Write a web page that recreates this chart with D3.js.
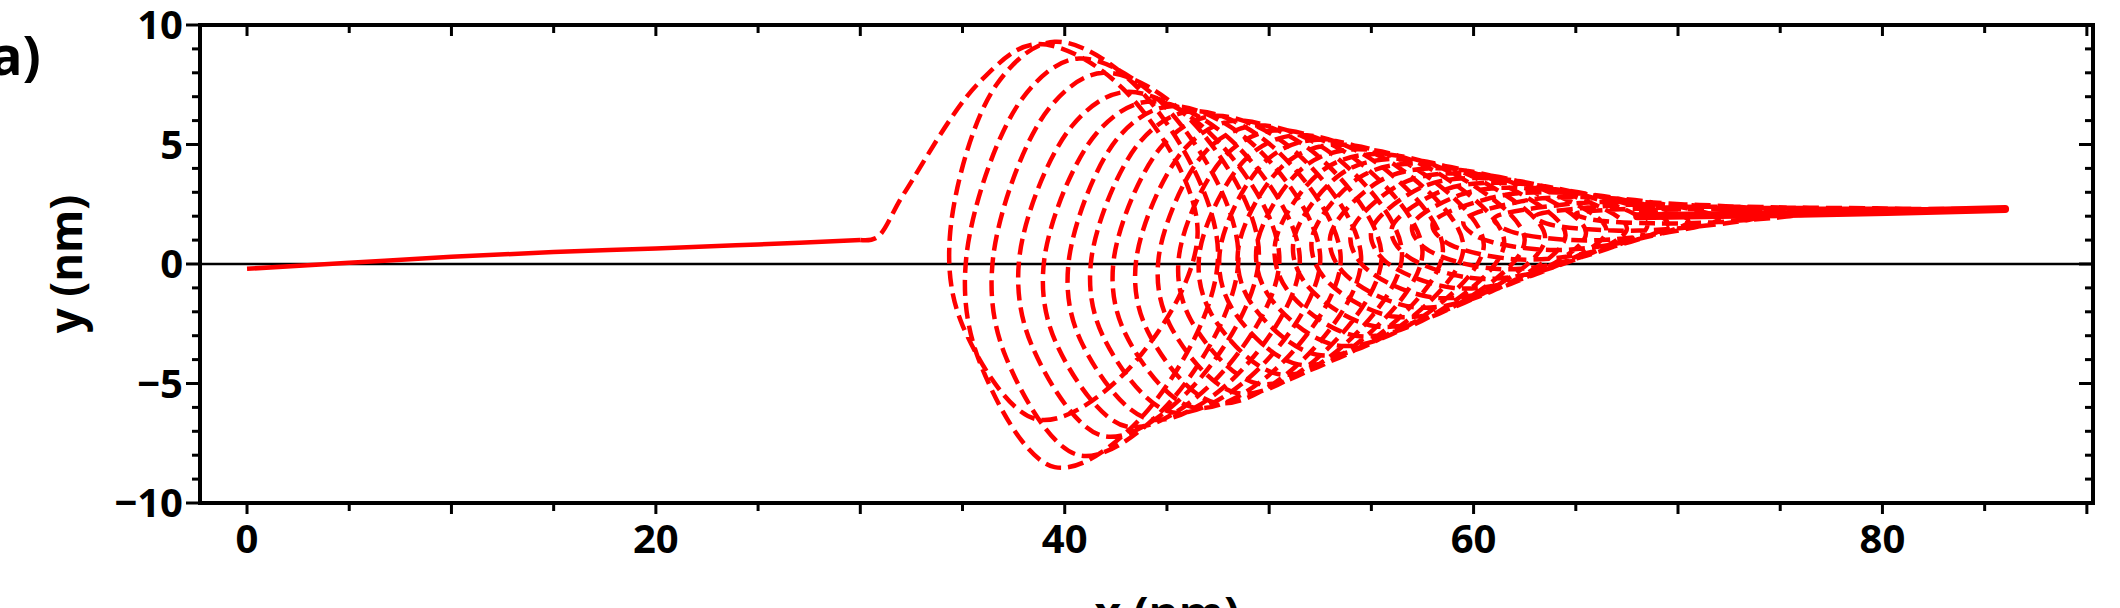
<!DOCTYPE html>
<html><head><meta charset="utf-8">
<script src="https://cdn.jsdelivr.net/npm/d3@7"></script>
<style>body{margin:0;background:#fff}svg{display:block}text{font-family:"Open Sans","DejaVu Sans",sans-serif;font-weight:700}</style>
</head><body>
<svg id="c" width="2120" height="608"></svg>
<script>
// approach line points (x, y in nm)
const leadX = [0, 5, 10, 15, 20, 25, 30, 30.8, 32.1];
const leadY = [-0.2, 0.05, 0.3, 0.5, 0.65, 0.82, 1.0, 1.1, 2.9];
// per-loop extents
const loopLeft   = [34.4,35.2,36.5,37.8,39.0,40.2,41.3,42.4,43.5,44.6,45.6,46.6,47.6,48.5,49.4,50.3,51.2,52.1,53,54,55,56,57,58,59.5,61,63,65,68,72];
const loopRight  = [46.5,47.5,48.5,49.5,50.5,51.5,52.5,53.5,54.5,55.5,56.5,57.5,58.5,59.5,60.5,61.5,62.5,63.5,64.5,65.5,66.5,67.5,68.5,69.5,70.5,72,74,76,79,83];
const loopTop    = [9.2,9.3,8.6,8.0,7.2,6.8,6.6,6.4,6.2,6.0,5.8,5.6,5.4,5.2,5.0,4.8,4.6,4.4,4.2,4.0,3.8,3.6,3.4,3.2,3.0,2.8,2.6,2.5,2.4,2.35];
const loopBottom = [-6.5,-8.5,-8.0,-7.2,-6.8,-6.5,-6.2,-6.0,-5.8,-5.4,-5.0,-4.6,-4.2,-3.8,-3.4,-3.0,-2.6,-2.2,-1.8,-1.4,-1.0,-0.6,-0.2,0.2,0.6,1.0,1.4,1.7,2.0,2.2];
const endPoint = [86, 2.3];
const xTickLabels = [0, 20, 40, 60, 80];
const yTickLabels = [-10, -5, 0, 5, 10];

const svg = d3.select("#c");
const L = 200, R = 2093, T = 25, B = 503;
const x = d3.scaleLinear().domain([-2.3, 90.3]).range([L, R]);
const y = d3.scaleLinear().domain([-10, 10]).range([B, T]);

const pts = leadX.map((v, i) => [v, leadY[i]]);
loopLeft.forEach((l, i) => {
  const r = loopRight[i], t = loopTop[i], b = loopBottom[i], w = r - l, m = (t + b) / 2;
  pts.push([l + 0.12 * w, t - 0.1 * (t - b)]);
  pts.push([l + 0.35 * w, t]);
  pts.push([l + 0.7 * w, t - 0.12 * (t - b)]);
  pts.push([r, m]);
  pts.push([l + 0.7 * w, b + 0.12 * (t - b)]);
  pts.push([l + 0.35 * w, b]);
  pts.push([l + 0.05 * w, b + 0.25 * (t - b)]);
  pts.push([l, m]);
});
pts.push(endPoint);

const line = d3.line().x(d => x(d[0])).y(d => y(d[1])).curve(d3.curveCatmullRom.alpha(0.5));

svg.append("line").attr("x1", L).attr("x2", R).attr("y1", y(0)).attr("y2", y(0)).attr("stroke", "#000").attr("stroke-width", 2.5);

svg.append("path").attr("d", line(pts.slice(0, 7))).attr("fill", "none").attr("stroke", "#f00").attr("stroke-width", 4.5);
svg.append("path").attr("d", line(pts.slice(6))).attr("fill", "none").attr("stroke", "#f00")
  .attr("stroke-width", 4.5).attr("stroke-dasharray", "16 7");
svg.append("path").attr("d", line([[68, 2.0], [76, 2.1], endPoint])).attr("fill", "none").attr("stroke", "#f00").attr("stroke-width", 8).attr("stroke-linecap", "round");

const xt = d3.range(0, 91, 5), yt = d3.range(-10, 11, 1);
const g = svg.append("g").attr("stroke", "#000").attr("stroke-width", 3);
g.append("rect").attr("x", L).attr("y", T).attr("width", R - L).attr("height", B - T).attr("fill", "none").attr("stroke-width", 4);
xt.forEach(v => {
  const len = v % 10 === 0 ? 11 : 8;
  g.append("line").attr("x1", x(v)).attr("x2", x(v)).attr("y1", B).attr("y2", B + len);
  g.append("line").attr("x1", x(v)).attr("x2", x(v)).attr("y1", T).attr("y2", T + len);
});
yt.forEach(v => {
  const len = v % 5 === 0 ? 14 : 8;
  g.append("line").attr("x1", L).attr("x2", L - len).attr("y1", y(v)).attr("y2", y(v));
  g.append("line").attr("x1", R).attr("x2", R - len).attr("y1", y(v)).attr("y2", y(v));
});
xTickLabels.forEach(v => svg.append("text").attr("x", x(v)).attr("y", 553).attr("text-anchor", "middle").attr("font-size", 40).text(v));
yTickLabels.forEach(v => svg.append("text").attr("x", 183).attr("y", y(v) + 14).attr("text-anchor", "end").attr("font-size", 40).text(v < 0 ? "\u2212" + (-v) : v));
svg.append("text").attr("x", x(45)).attr("y", 630).attr("text-anchor", "middle").attr("font-size", 46).text("x (nm)");
svg.append("text").attr("transform", `translate(82,${y(0)}) rotate(-90)`).attr("text-anchor", "middle").attr("font-size", 44).text("y (nm)");
svg.append("text").attr("x", -10).attr("y", 75).attr("font-size", 54).text("a)");
</script>
</body></html>
